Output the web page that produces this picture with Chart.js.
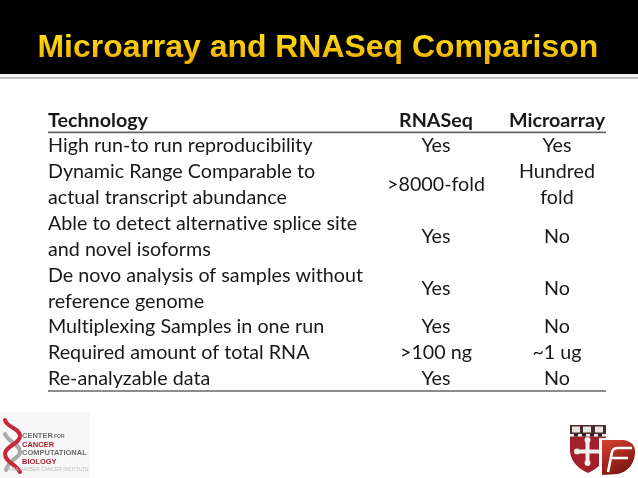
<!DOCTYPE html>
<html>
<head>
<meta charset="utf-8">
<title>Microarray and RNASeq Comparison</title>
<script src="https://cdn.jsdelivr.net/npm/chart.js@4"></script>
<style>
  html, body { margin: 0; padding: 0; background: #fff; }
  canvas { display: block; }
</style>
</head>
<body>
<canvas id="slide" width="638" height="478"></canvas>
<script>
// TABLE DATA
const slideTitle = 'Microarray and RNASeq Comparison';
const headers = ['Technology', 'RNASeq', 'Microarray'];
const features = [
  ['High run-to run reproducibility'],
  ['Dynamic Range Comparable to', 'actual transcript abundance'],
  ['Able to detect alternative splice site', 'and novel isoforms'],
  ['De novo analysis of samples without', 'reference genome'],
  ['Multiplexing Samples in one run'],
  ['Required amount of total RNA'],
  ['Re-analyzable data']
];
const rnaseqValues = [['Yes'], ['>8000-fold'], ['Yes'], ['Yes'], ['Yes'], ['>100 ng'], ['Yes']];
const microarrayValues = [['Yes'], ['Hundred', 'fold'], ['No'], ['No'], ['No'], ['~1 ug'], ['No']];

// LAYOUT
const FONT = 'Lato, sans-serif';
const LINE_COUNT = 1 + features.reduce((sum, f) => sum + f.length, 0);
const COLUMN_X = [0, 388, 509]; // px from the table's left edge
const COLUMN_ALIGN = ['left', 'center', 'center'];

// one scatter point per table cell, y is measured in text lines
function buildCells() {
  const cells = headers.map((h, col) => ({ x: COLUMN_X[col], y: 0.5, lines: [h], col, bold: true }));
  let line = 1;
  features.forEach((feature, i) => {
    const height = feature.length;
    [feature, rnaseqValues[i], microarrayValues[i]].forEach((lines, col) => {
      cells.push({ x: COLUMN_X[col], y: line + height / 2, lines, col, bold: false });
    });
    line += height;
  });
  return cells;
}

// SLIDE FURNITURE
function drawHeader(ctx) {
  ctx.fillStyle = '#000';
  ctx.fillRect(0, 0, 638, 74);
  ctx.fillStyle = '#f2f2f2';
  ctx.fillRect(0, 74, 638, 3);
  ctx.fillStyle = '#bdbdbd';
  ctx.fillRect(0, 77, 638, 2);

  const grad = ctx.createLinearGradient(0, -22, 0, 3);
  grad.addColorStop(0, '#ffdc14');
  grad.addColorStop(1, '#efb000');
  ctx.save();
  ctx.translate(37.5, 57);
  ctx.scale(1.03, 1); // the slide title is slightly stretched
  ctx.font = 'bold 31px "Liberation Sans", Arial, sans-serif';
  ctx.textAlign = 'left';
  ctx.textBaseline = 'alphabetic';
  ctx.fillStyle = grad;
  ctx.fillText(slideTitle, 0, 0);
  ctx.restore();
}

function drawCenterLogo(ctx) {
  ctx.fillStyle = '#f7f7f7';
  ctx.fillRect(0, 412, 90, 66);

  ctx.save();
  ctx.lineCap = 'round';
  ctx.lineWidth = 4;
  ctx.strokeStyle = '#aaaaaa';
  ctx.beginPath();
  ctx.moveTo(5, 434);
  ctx.bezierCurveTo(8, 442, 20, 444, 20, 452);
  ctx.bezierCurveTo(20, 458, 8, 460, 6, 470);
  ctx.stroke();
  ctx.strokeStyle = '#c8283c';
  ctx.beginPath();
  ctx.moveTo(5, 420);
  ctx.bezierCurveTo(7, 428, 20, 428, 20, 436);
  ctx.bezierCurveTo(20, 444, 5, 446, 5, 454);
  ctx.bezierCurveTo(5, 462, 16, 464, 20, 472);
  ctx.stroke();

  ctx.textBaseline = 'middle';
  ctx.textAlign = 'left';
  ctx.font = 'bold 7.5px "Liberation Sans", sans-serif';
  ctx.fillStyle = '#6e6e6e';
  ctx.fillText('CENTER', 22, 436);
  ctx.font = 'bold 5px "Liberation Sans", sans-serif';
  ctx.fillText('FOR', 54, 436.5);
  ctx.font = 'bold 7.5px "Liberation Sans", sans-serif';
  ctx.fillText('COMPUTATIONAL', 22, 453);
  ctx.fillStyle = '#a81e2d';
  ctx.fillText('CANCER', 22, 444.5);
  ctx.fillText('BIOLOGY', 22, 462);
  ctx.font = '4.9px "Liberation Sans", sans-serif';
  ctx.fillStyle = '#bbbbbb';
  ctx.fillText('DANA-FARBER CANCER INSTITUTE', 5, 470);
  ctx.restore();
}

function drawHarvardLogo(ctx) {
  ctx.save();
  // shield
  ctx.fillStyle = '#a31f2c';
  ctx.beginPath();
  ctx.moveTo(570, 425);
  ctx.lineTo(606, 425);
  ctx.lineTo(606, 452);
  ctx.quadraticCurveTo(604, 466, 588, 473);
  ctx.quadraticCurveTo(572, 466, 570, 452);
  ctx.closePath();
  ctx.fill();
  ctx.fillStyle = '#4a2c2c';
  ctx.fillRect(570, 425, 36, 9);
  ctx.fillStyle = '#e8e4e0';
  [572, 583, 595].forEach(x => ctx.fillRect(x, 426.5, 8, 6));
  // checker strip under the books
  ctx.fillStyle = '#eeeeee';
  ctx.fillRect(570, 434, 36, 2.5);
  ctx.fillStyle = '#222';
  [574, 582, 590, 598].forEach(x => ctx.fillRect(x, 434, 4, 2.5));
  // cross
  ctx.fillStyle = '#f3eeee';
  ctx.fillRect(585.5, 439, 4, 26);
  ctx.fillRect(575, 449.5, 26, 4);
  ctx.beginPath();
  ctx.arc(587.5, 440, 3, 0, Math.PI * 2);
  ctx.arc(587.5, 463, 3, 0, Math.PI * 2);
  ctx.fill();
  ctx.beginPath();
  ctx.arc(577, 451.5, 3, 0, Math.PI * 2);
  ctx.fill();
  // F tile
  const tile = ctx.createLinearGradient(602, 440, 620, 475);
  tile.addColorStop(0, '#d8412f');
  tile.addColorStop(1, '#7c1512');
  ctx.fillStyle = '#fff';
  ctx.fillRect(599, 438, 39, 38);
  ctx.fillStyle = tile;
  ctx.beginPath();
  ctx.moveTo(602, 440);
  ctx.lineTo(624, 440);
  ctx.quadraticCurveTo(636, 442, 635, 454);
  ctx.quadraticCurveTo(633, 470, 618, 474);
  ctx.lineTo(602, 475);
  ctx.closePath();
  ctx.fill();
  ctx.strokeStyle = '#fff';
  ctx.lineWidth = 2.6;
  ctx.beginPath();
  ctx.moveTo(608, 472);
  ctx.lineTo(612, 452);
  ctx.quadraticCurveTo(613, 448, 618, 448);
  ctx.lineTo(632, 448);
  ctx.moveTo(611, 458);
  ctx.lineTo(628, 458);
  ctx.stroke();
  ctx.restore();
}

// PLUGINS
const slidePlugin = {
  id: 'slide',
  beforeDraw(chart) {
    const ctx = chart.ctx;
    ctx.save();
    drawHeader(ctx);
    drawCenterLogo(ctx);
    drawHarvardLogo(ctx);
    ctx.restore();
  }
};

const tablePlugin = {
  id: 'tableCells',
  afterDatasetsDraw(chart) {
    const { ctx, scales: { x, y } } = chart;
    const lineHeight = Math.abs(y.getPixelForValue(1) - y.getPixelForValue(0));

    // header and bottom rules
    ctx.save();
    ctx.strokeStyle = '#666';
    ctx.lineWidth = 1.6;
    [1, LINE_COUNT].forEach(v => {
      ctx.beginPath();
      ctx.moveTo(x.left, y.getPixelForValue(v));
      ctx.lineTo(x.right, y.getPixelForValue(v));
      ctx.stroke();
    });

    ctx.textBaseline = 'middle';
    ctx.letterSpacing = '0.01px'; // keeps Lato from joining "ti" into a ligature
    chart.data.datasets[0].data.forEach(cell => {
      ctx.font = (cell.bold ? 'bold ' : '') + '19.7px ' + FONT;
      ctx.textAlign = COLUMN_ALIGN[cell.col];
      ctx.fillStyle = '#181818';
      const px = x.getPixelForValue(cell.x);
      const mid = y.getPixelForValue(cell.y) + 0.8;
      cell.lines.forEach((text, i) => {
        ctx.fillText(text, px, mid + (i - (cell.lines.length - 1) / 2) * lineHeight);
      });
    });
    ctx.restore();
  }
};

// CHART
new Chart(document.getElementById('slide'), {
  type: 'scatter',
  data: { datasets: [{ data: buildCells(), pointRadius: 0 }] },
  plugins: [slidePlugin, tablePlugin],
  options: {
    responsive: false,
    animation: false,
    devicePixelRatio: 1,
    layout: { padding: { left: 48, right: 32, top: 106.5, bottom: 87 } },
    plugins: { legend: { display: false }, title: { display: false }, tooltip: { enabled: false } },
    scales: {
      x: { type: 'linear', display: false, min: 0, max: 558 },
      y: { type: 'linear', display: false, reverse: true, min: 0, max: LINE_COUNT }
    }
  }
});
</script>
</body>
</html>
